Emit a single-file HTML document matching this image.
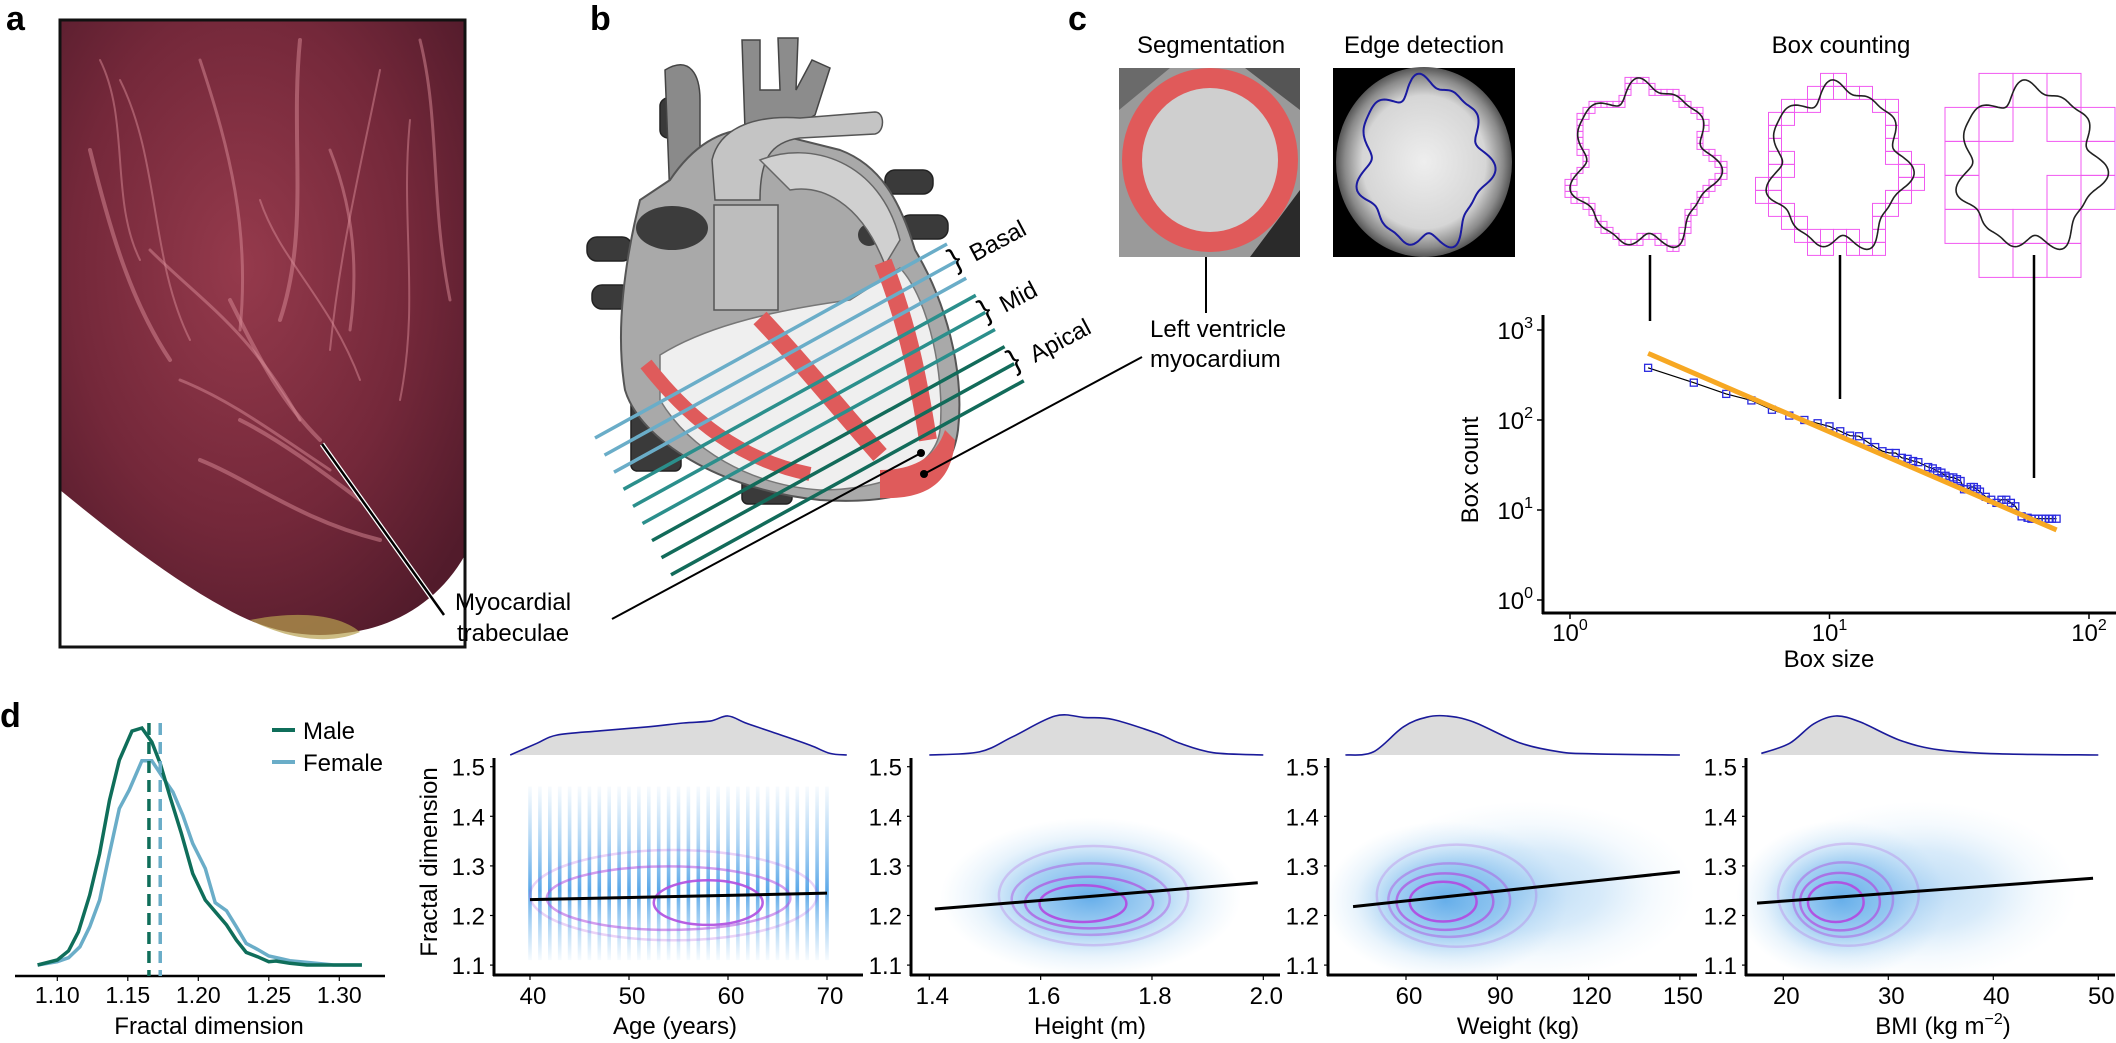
<!DOCTYPE html>
<html><head><meta charset="utf-8"><title>Fractal analysis figure</title>
<style>
html,body{margin:0;padding:0;background:#fff;}
svg{display:block;font-family:"Liberation Sans",Arial,sans-serif;}
</style></head>
<body>
<svg id="fig" xmlns="http://www.w3.org/2000/svg" width="2116" height="1043" viewBox="0 0 2116 1043">
<defs>
  <radialGradient id="heartGrad" cx="45%" cy="40%" r="70%">
    <stop offset="0" stop-color="#953a4c"/><stop offset="0.6" stop-color="#74283a"/><stop offset="1" stop-color="#521b2b"/>
  </radialGradient>
  <radialGradient id="cloudGrad" cx="50%" cy="50%" r="50%">
    <stop offset="0" stop-color="#4a9fe6" stop-opacity="0.85"/>
    <stop offset="0.45" stop-color="#62aeea" stop-opacity="0.55"/>
    <stop offset="0.75" stop-color="#8cc5f0" stop-opacity="0.2"/>
    <stop offset="1" stop-color="#a8d2f3" stop-opacity="0"/>
  </radialGradient>
  <linearGradient id="stripeGrad" x1="0" y1="0" x2="0" y2="1">
    <stop offset="0" stop-color="#6ab2ec" stop-opacity="0.05"/>
    <stop offset="0.3" stop-color="#5aa8e8" stop-opacity="0.45"/>
    <stop offset="0.6" stop-color="#4a9fe6" stop-opacity="0.9"/>
    <stop offset="0.85" stop-color="#6ab2ec" stop-opacity="0.4"/>
    <stop offset="1" stop-color="#6ab2ec" stop-opacity="0.05"/>
  </linearGradient>
  <radialGradient id="edgeGrad" cx="50%" cy="50%" r="50%">
    <stop offset="0" stop-color="#eeeeee"/><stop offset="0.7" stop-color="#d6d6d6"/><stop offset="0.9" stop-color="#8a8a8a"/><stop offset="1" stop-color="#555"/>
  </radialGradient>
</defs>

<text x="6" y="30" font-size="34" font-weight="bold">a</text>
<text x="590" y="30" font-size="34" font-weight="bold">b</text>
<text x="1068" y="30" font-size="34" font-weight="bold">c</text>
<text x="0" y="727" font-size="34" font-weight="bold">d</text>

<g id="panelA">
  <rect x="60" y="20" width="405" height="627" fill="#fff"/>
  <path d="M60,20 L465,20 L465,555 C440,600 395,628 345,633 C300,640 260,628 225,608 C170,578 115,535 60,490 Z" fill="url(#heartGrad)"/>
  <path d="M250,620 C290,640 330,645 360,632 C340,615 300,610 250,620 Z" fill="#b6a04e" opacity="0.7"/>
  <g id="strands" stroke="#d88a95" fill="none" stroke-linecap="round"></g>
  <rect x="60" y="20" width="405" height="627" fill="none" stroke="#111" stroke-width="3"/>
  <line x1="322" y1="444" x2="444" y2="615" stroke="#fff" stroke-width="5"/>
  <line x1="322" y1="444" x2="444" y2="615" stroke="#000" stroke-width="2.5"/>
  <text x="455" y="610" font-size="24">Myocardial</text>
  <text x="457" y="641" font-size="24">trabeculae</text>
</g>

<g id="panelB">
  <g fill="#3a3a3a" stroke="#222" stroke-width="1.5">
    <rect x="587" y="237" width="45" height="24" rx="10"/>
    <rect x="592" y="285" width="40" height="24" rx="10"/>
    <rect x="885" y="170" width="48" height="24" rx="10"/>
    <rect x="900" y="215" width="48" height="24" rx="10"/>
    <rect x="631" y="391" width="50" height="80" rx="6"/>
    <rect x="742" y="470" width="50" height="34" rx="6"/>
    <rect x="660" y="98" width="22" height="40" rx="8"/>
  </g>
  <path d="M665,70 C690,55 700,75 700,100 L700,200 L670,200 Z" fill="#8a8a8a" stroke="#444" stroke-width="1.5"/>
  <path d="M742,40 L760,40 L760,90 L780,90 L778,38 L798,38 L796,90 L812,60 L830,68 L815,115 L790,130 L745,130 Z" fill="#8c8c8c" stroke="#444" stroke-width="1.5"/>
  <path d="M640,200 C625,260 615,330 625,390 C640,440 720,490 820,500 C900,505 950,490 958,430 C965,370 945,300 915,250 C900,200 880,165 840,150 L760,130 C720,125 690,150 670,180 Z" fill="#a9a9a9" stroke="#555" stroke-width="2"/>
  <path d="M712,160 C720,125 760,115 800,118 L875,112 C885,112 885,132 875,134 L800,138 C770,142 760,160 760,200 L715,200 Z" fill="#c4c4c4" stroke="#555" stroke-width="1.5"/>
  <ellipse cx="672" cy="228" rx="36" ry="22" fill="#3c3c3c"/>
  <circle cx="862" cy="194" r="11" fill="#3c3c3c"/>
  <circle cx="869" cy="235" r="11" fill="#3c3c3c"/>
  <path d="M760,160 C810,140 880,160 900,240 L885,265 C860,200 820,185 790,190 Z" fill="#d0d0d0" stroke="#666" stroke-width="1.5"/>
  <path d="M660,355 C700,330 760,312 850,300 L900,268 C930,300 945,380 940,430 C935,470 880,490 820,490 C750,485 690,450 660,400 Z" fill="#efefef" stroke="#777" stroke-width="1.5"/>
  <path d="M714,205 L778,205 L778,310 L714,310 Z" fill="#bdbdbd" stroke="#555" stroke-width="1.5"/>
  <path d="M646,364 C690,420 740,460 810,474" fill="none" stroke="#df5b5b" stroke-width="14"/>
  <path d="M760,318 C800,360 840,410 880,455" fill="none" stroke="#df5b5b" stroke-width="18"/>
  <path d="M883,262 C910,330 920,390 928,440" fill="none" stroke="#df5b5b" stroke-width="18"/>
  <path d="M880,470 C910,470 935,460 945,430 L955,440 C952,480 930,500 880,498 Z" fill="#df5b5b"/>
  <g id="sliceLines"></g>
  <circle cx="921" cy="453" r="4" fill="#000"/>
  <circle cx="924" cy="474" r="4" fill="#000"/>
  <line x1="612" y1="619" x2="921" y2="453" stroke="#000" stroke-width="2"/>
  <line x1="924" y1="474" x2="1142" y2="357" stroke="#000" stroke-width="2"/>
  <text x="955" y="270" font-size="30" transform="rotate(-28 955 270)">}</text>
  <text x="985" y="321" font-size="30" transform="rotate(-28 985 321)">}</text>
  <text x="1014" y="371" font-size="30" transform="rotate(-28 1014 371)">}</text>
  <text x="975" y="262" font-size="24" transform="rotate(-28 975 262)">Basal</text>
  <text x="1005" y="313" font-size="24" transform="rotate(-28 1005 313)">Mid</text>
  <text x="1035" y="363" font-size="24" transform="rotate(-28 1035 363)">Apical</text>
</g>

<g id="panelC">
  <text x="1211" y="53" font-size="24" text-anchor="middle">Segmentation</text>
  <text x="1424" y="53" font-size="24" text-anchor="middle">Edge detection</text>
  <text x="1841" y="53" font-size="24" text-anchor="middle">Box counting</text>
  <g>
    <rect x="1119" y="68" width="181" height="189" fill="#9a9a9a"/>
    <path d="M1245,68 L1300,68 L1300,110 Z" fill="#555"/>
    <path d="M1300,190 L1300,257 L1250,257 Z" fill="#2a2a2a"/>
    <path d="M1119,68 L1170,68 L1119,110 Z" fill="#6a6a6a"/>
    <ellipse cx="1210" cy="160" rx="88" ry="92" fill="#e05a5a"/>
    <ellipse cx="1210" cy="160" rx="68" ry="72" fill="#cfcfcf"/>
  </g>
  <g>
    <rect x="1333" y="68" width="182" height="189" fill="#000"/>
    <ellipse cx="1424" cy="162" rx="88" ry="95" fill="url(#edgeGrad)"/>
    <path id="edgeContour" fill="none" stroke="#1a1aa0" stroke-width="2"/>
  </g>
  <line x1="1206" y1="257" x2="1206" y2="313" stroke="#000" stroke-width="2"/>
  <text x="1150" y="337" font-size="24">Left ventricle</text>
  <text x="1150" y="367" font-size="24">myocardium</text>
  <g id="boxImages"></g>
  <g id="boxPlot"></g>
</g>

<g id="densityPlot"></g>
<g id="scatterPanels"></g>
</svg>

<script>
const boxSizes = [2,3,4,5,6,7,8,9,10,11,12,13,14,15,16,17,18,19,20,21,22,24,25,26,27,28,29,30,31,32,33,34,35,36,37,38,40,42,44,46,48,50,52,55,58,60,62,64,66,68,70,72,75];
const boxCounts = [380,260,195,165,130,112,100,92,85,75,67,66,57,50,45,43,43,38,37,35,34,30,29,27,26,24,23,23,22,21,17,17,18,18,17,16,14,13,12,13,13,12,11,8.5,8.2,8,8,8,8,8,8,8,8];
const boxFitSize = [2,75];
const boxFitCount = [550,6];
const boxTickExp = [0,1,2];
const boxYTickExp = [0,1,2,3];

const fdMaleX = [1.086,1.100,1.108,1.115,1.123,1.130,1.137,1.144,1.153,1.160,1.167,1.173,1.180,1.188,1.196,1.205,1.213,1.220,1.227,1.234,1.242,1.250,1.255,1.265,1.277,1.316];
const fdMaleD = [0,0.021,0.060,0.140,0.295,0.470,0.695,0.864,0.987,1.0,0.941,0.850,0.709,0.555,0.386,0.274,0.218,0.169,0.105,0.053,0.035,0.014,0.017,0.007,0,0];
const fdFemaleX = [1.086,1.100,1.108,1.116,1.123,1.130,1.137,1.144,1.151,1.160,1.167,1.174,1.182,1.189,1.196,1.205,1.212,1.220,1.227,1.234,1.242,1.250,1.258,1.265,1.277,1.296,1.316];
const fdFemaleD = [0,0.014,0.031,0.077,0.161,0.274,0.471,0.660,0.738,0.862,0.862,0.799,0.730,0.632,0.513,0.407,0.263,0.229,0.161,0.091,0.066,0.038,0.028,0.018,0.011,0,0];
const fdMeans = [1.165,1.173];
const fdTicks = [1.10,1.15,1.20,1.25,1.30];

const fdYTicks = [1.1,1.2,1.3,1.4,1.5];

const ageTicks = [40,50,60,70];
const ageLevels = [40,41,42,43,44,45,46,47,48,49,50,51,52,53,54,55,56,57,58,59,60,61,62,63,64,65,66,67,68,69,70];
const ageMargX = [38,40.7,42.7,47.1,51.8,55.5,58.2,60,61.9,64.9,68.3,70.3,72];
const ageMargD = [0,0.3,0.51,0.62,0.72,0.82,0.87,1.0,0.81,0.55,0.25,0.04,0];
const ageFitX = [40,70];
const ageFitY = [1.232,1.245];
const ageContCx = [54.5,54,58];
const ageContCy = [1.241,1.235,1.226];
const ageContRx = [14.5,12.3,5.5];
const ageContRy = [0.091,0.064,0.045];

const heightTicks = [1.4,1.6,1.8,2.0];
const heightMargX = [1.40,1.49,1.55,1.626,1.68,1.73,1.81,1.85,1.91,2.0];
const heightMargD = [0,0.08,0.47,1.0,0.96,0.91,0.55,0.3,0.06,0];
const heightFitX = [1.41,1.99];
const heightFitY = [1.213,1.266];
const heightContCx = [1.695,1.69,1.687,1.676];
const heightContCy = [1.24,1.233,1.226,1.224];
const heightContRx = [0.17,0.142,0.115,0.078];
const heightContRy = [0.10,0.072,0.052,0.037];
const heightCloud = [1.69,1.237,0.27,0.16];

const weightTicks = [60,90,120,150];
const weightMargX = [40.1,49.3,59.1,66.8,73.4,82.1,97.4,110.6,121.5,150];
const weightMargD = [0,0.08,0.72,0.97,1.0,0.85,0.31,0.08,0.03,0];
const weightFitX = [42.6,150];
const weightFitY = [1.218,1.288];
const weightContCx = [76.6,74.2,72.8,72.2];
const weightContCy = [1.24,1.231,1.228,1.228];
const weightContRx = [26.2,20,15.9,11];
const weightContRy = [0.103,0.074,0.057,0.04];
const weightCloud = [73,1.23,40,0.16];
const weightTail = [100,1.25,55,0.18];

const bmiTicks = [20,30,40,50];
const bmiMargX = [17.9,20.6,22.9,25,27.3,31.1,34.9,40.6,50];
const bmiMargD = [0.04,0.3,0.8,1.0,0.85,0.38,0.13,0.03,0];
const bmiFitX = [17.5,49.5];
const bmiFitY = [1.225,1.275];
const bmiContCx = [26.2,25.7,25.4,25];
const bmiContCy = [1.242,1.232,1.228,1.227];
const bmiContRx = [6.7,4.75,3.8,2.65];
const bmiContRy = [0.103,0.075,0.058,0.04];
const bmiCloud = [25.5,1.232,10,0.16];
const bmiTail = [33,1.25,15,0.18];

const NS = 'http://www.w3.org/2000/svg';
function mk(tag, attrs, parent){
  const e = document.createElementNS(NS, tag);
  for (const k in attrs) e.setAttribute(k, attrs[k]);
  parent.appendChild(e);
  return e;
}
function smoothD(pts){
  let d = 'M' + pts[0][0].toFixed(1) + ',' + pts[0][1].toFixed(1);
  for (let i = 0; i < pts.length - 1; i++) {
    const p0 = pts[Math.max(0, i-1)], p1 = pts[i], p2 = pts[i+1], p3 = pts[Math.min(pts.length-1, i+2)];
    const c1x = p1[0] + (p2[0]-p0[0])/6, c1y = p1[1] + (p2[1]-p0[1])/6;
    const c2x = p2[0] - (p3[0]-p1[0])/6, c2y = p2[1] - (p3[1]-p1[1])/6;
    d += ' C' + c1x.toFixed(1) + ',' + c1y.toFixed(1) + ' ' + c2x.toFixed(1) + ',' + c2y.toFixed(1) + ' ' + p2[0].toFixed(1) + ',' + p2[1].toFixed(1);
  }
  return d;
}

(function(){
  const g = document.getElementById('strands');
  const paths = [
    "M120,80 C160,160 150,260 190,340","M200,60 C230,150 250,230 240,330","M300,40 C290,140 310,230 280,320",
    "M380,70 C360,170 340,250 330,350","M150,250 C200,300 250,330 300,420","M230,300 C260,360 280,400 320,440",
    "M260,200 C280,260 330,300 360,380","M180,380 C230,400 270,430 330,470","M90,150 C110,230 130,300 170,360",
    "M410,120 C400,220 420,300 400,400","M330,150 C350,200 360,260 350,330","M240,420 C280,440 320,470 360,500",
    "M100,60 C130,120 110,200 140,260","M420,40 C440,120 430,200 450,300","M200,460 C250,480 300,520 380,540"
  ];
  paths.forEach(function(d, i){
    const p = mk('path', {d: d, 'stroke-width': (i % 3) + 2, opacity: 0.5}, g);
    
    
  });
})();

(function(){
  const g = document.getElementById('sliceLines');
  const cols = ['#6aadc8','#6aadc8','#6aadc8','#2b8f8c','#2b8f8c','#2b8f8c','#126b5a','#126b5a','#126b5a'];
  for (let i = 0; i < 9; i++) {
    const ln = mk('line', {x1: 595 + i*9.5, y1: 438 + i*17.1, x2: 947 + i*9.6, y2: 244 + i*17.1, stroke: cols[i], 'stroke-width': 3.5}, g);
    
    
  }
})();

function blobPts(cx, cy, rx, ry){
  const pts = [];
  for (let i = 0; i <= 240; i++) {
    const t = i / 240 * Math.PI * 2;
    const r = 1 + 0.09*Math.sin(7*t + 0.5) + 0.05*Math.sin(11*t + 1.3) + 0.04*Math.cos(5*t);
    pts.push([cx + rx*r*Math.cos(t), cy + ry*r*Math.sin(t)]);
  }
  return pts;
}
function ptsToD(pts){ return 'M' + pts.map(p => p[0].toFixed(1) + ',' + p[1].toFixed(1)).join(' L') + ' Z'; }

document.getElementById('edgeContour').setAttribute('d', ptsToD(blobPts(1424, 163, 62, 80)));

(function(){
  const g = document.getElementById('boxImages');
  const specs = [[1644,165,68,78,6],[1838,167,66,78,13],[2030,167,68,78,34]];
  specs.forEach(function(s){
    const pts = blobPts(s[0], s[1], s[2], s[3]);
    const x0 = s[0] - s[2]*1.25, y0 = s[1] - s[3]*1.2, sz = s[4];
    const seen = {};
    pts.forEach(function(p){
      const i = Math.floor((p[0]-x0)/sz), j = Math.floor((p[1]-y0)/sz);
      const key = i + '_' + j;
      if (seen[key]) return;
      seen[key] = 1;
      const r = mk('rect', {x: x0 + i*sz, y: y0 + j*sz, width: sz, height: sz, fill: 'none', stroke: '#f05af0', 'stroke-width': 1}, g);
      
      
    });
    const c = mk('path', {d: ptsToD(pts), fill: 'none', stroke: '#222', 'stroke-width': 1.6}, g);
    
    
  });
  [[1650,255,321],[1840,255,399],[2034,255,478]].forEach(function(l){
    const ln = mk('line', {x1: l[0], y1: l[1], x2: l[0], y2: l[2], stroke: '#000', 'stroke-width': 2.5}, g);
    
    
  });
})();

(function(){
  const g = document.getElementById('boxPlot');
  const bx = v => 1570 + Math.log10(v) * 259.5;
  const by = v => 600 - Math.log10(v) * 90;
  let e = mk('line', {x1: 1543, y1: 315, x2: 1543, y2: 614, stroke: '#000', 'stroke-width': 3}, g);
  
  
  e = mk('line', {x1: 1542, y1: 613, x2: 2116, y2: 613, stroke: '#000', 'stroke-width': 3}, g);
  
  
  boxTickExp.forEach(function(k){
    const x = bx(Math.pow(10, k));
    const t = mk('line', {x1: x, y1: 613, x2: x, y2: 619, stroke: '#000', 'stroke-width': 1.5}, g);
    
    
    const tx = mk('text', {x: x, y: 641, 'font-size': 24, 'text-anchor': 'middle'}, g);
    
    
    tx.innerHTML = '10<tspan font-size="16" dy="-11">' + k + '</tspan>';
  });
  boxYTickExp.forEach(function(k){
    const y = by(Math.pow(10, k));
    const t = mk('line', {x1: 1537, y1: y, x2: 1543, y2: y, stroke: '#000', 'stroke-width': 1.5}, g);
    
    
    const tx = mk('text', {x: 1533, y: y + 9, 'font-size': 24, 'text-anchor': 'end'}, g);
    
    
    tx.innerHTML = '10<tspan font-size="16" dy="-11">' + k + '</tspan>';
  });
  const xl = mk('text', {x: 1829, y: 667, 'font-size': 24, 'text-anchor': 'middle'}, g);
  
  
  xl.textContent = 'Box size';
  const yl = mk('text', {x: 0, y: 0, 'font-size': 24, 'text-anchor': 'middle', transform: 'translate(1478,470) rotate(-90)'}, g);
  
  
  yl.textContent = 'Box count';
  const line = mk('polyline', {points: boxSizes.map((s, i) => bx(s).toFixed(1) + ',' + by(boxCounts[i]).toFixed(1)).join(' '), fill: 'none', stroke: '#000', 'stroke-width': 1.2}, g);
  
  
  boxSizes.forEach(function(s, i){
    const r = mk('rect', {x: bx(s) - 3.5, y: by(boxCounts[i]) - 3.5, width: 7, height: 7, fill: 'none', stroke: '#2a2ae0', 'stroke-width': 1.3}, g);
    
    
  });
  const fit = mk('line', {x1: bx(boxFitSize[0]), y1: by(boxFitCount[0]), x2: bx(boxFitSize[1]), y2: by(boxFitCount[1]), stroke: '#f7a823', 'stroke-width': 5}, g);
  
  
})();

(function(){
  const g = document.getElementById('densityPlot');
  const dx = v => 57.3 + (v - 1.10) * 1410;
  const dy = d => 965 - d * 237;
  let e = mk('line', {x1: 15, y1: 976, x2: 385, y2: 976, stroke: '#000', 'stroke-width': 2.5}, g);
  
  
  fdTicks.forEach(function(v){
    const t = mk('line', {x1: dx(v), y1: 976, x2: dx(v), y2: 981, stroke: '#000', 'stroke-width': 1.2}, g);
    
    
    const tx = mk('text', {x: dx(v), y: 1003, 'font-size': 23, 'text-anchor': 'middle'}, g);
    
    
    tx.textContent = v.toFixed(2);
  });
  const tl = mk('text', {x: 209, y: 1034, 'font-size': 24, 'text-anchor': 'middle'}, g);
  
  
  tl.textContent = 'Fractal dimension';
  const fem = mk('polyline', {points: fdFemaleX.map((x, i) => dx(x).toFixed(1) + ',' + dy(fdFemaleD[i]).toFixed(1)).join(' '), fill: 'none', stroke: '#6aadc8', 'stroke-width': 3.5}, g);
  
  
  const mal = mk('polyline', {points: fdMaleX.map((x, i) => dx(x).toFixed(1) + ',' + dy(fdMaleD[i]).toFixed(1)).join(' '), fill: 'none', stroke: '#0f6e5a', 'stroke-width': 3.5}, g);
  
  
  const mm = mk('line', {x1: dx(fdMeans[0]), y1: 723, x2: dx(fdMeans[0]), y2: 976, stroke: '#0f6e5a', 'stroke-width': 3.5, 'stroke-dasharray': '12,7'}, g);
  
  
  const fm = mk('line', {x1: dx(fdMeans[1]), y1: 723, x2: dx(fdMeans[1]), y2: 976, stroke: '#6aadc8', 'stroke-width': 3.5, 'stroke-dasharray': '12,7'}, g);
  
  
  const l1 = mk('line', {x1: 272, y1: 730, x2: 295, y2: 730, stroke: '#0f6e5a', 'stroke-width': 4}, g);
  
  
  const t1 = mk('text', {x: 303, y: 739, 'font-size': 24}, g);
  
  
  t1.textContent = 'Male';
  const l2 = mk('line', {x1: 272, y1: 762, x2: 295, y2: 762, stroke: '#6aadc8', 'stroke-width': 4}, g);
  
  
  const t2 = mk('text', {x: 303, y: 771, 'font-size': 24}, g);
  
  
  t2.textContent = 'Female';
})();

const fy = v => 766.7 + (1.5 - v) * 496;
function scatterPanel(p){
  const root = document.getElementById('scatterPanels');
  const g = mk('g', {}, root);
  
  
  const sx = v => p.px0 + (v - p.v0) * p.k;
  const base = 755, hgt = 39;
  const mpts = p.margX.map((x, i) => [sx(x), base - p.margD[i]*hgt]);
  const cd = smoothD(mpts);
  const area = mk('path', {d: cd + ' L' + mpts[mpts.length-1][0].toFixed(1) + ',' + base + ' L' + mpts[0][0].toFixed(1) + ',' + base + ' Z', fill: '#dcdcdc', stroke: 'none'}, g);
  
  
  const curve = mk('path', {d: cd, fill: 'none', stroke: '#1a1a9a', 'stroke-width': 1.6}, g);
  
  
  if (p.levels) {
    p.levels.forEach(function(a){
      const s = mk('rect', {x: sx(a) - 1.8, y: fy(1.46), width: 3.6, height: fy(1.11) - fy(1.46), fill: 'url(#stripeGrad)'}, g);
      
      
    });
  }
  (p.clouds || []).forEach(function(c, i){
    const el = mk('ellipse', {cx: sx(c[0]), cy: fy(c[1]), rx: c[2]*p.k, ry: c[3]*496, fill: 'url(#cloudGrad)', opacity: i === 0 ? 1 : 0.45}, g);
    
    
  });
  const n = p.cCx.length;
  const ops = n === 3 ? [0.25, 0.55, 0.9] : [0.25, 0.45, 0.7, 0.95];
  for (let i = 0; i < n; i++) {
    const el = mk('ellipse', {cx: sx(p.cCx[i]), cy: fy(p.cCy[i]), rx: p.cRx[i]*p.k, ry: p.cRy[i]*496, fill: 'none', stroke: '#b04ee0', 'stroke-width': 2.5, opacity: ops[i]}, g);
    
    
  }
  const fl = mk('line', {x1: sx(p.fitX[0]), y1: fy(p.fitY[0]), x2: sx(p.fitX[1]), y2: fy(p.fitY[1]), stroke: '#000', 'stroke-width': 3}, g);
  
  
  const ya = mk('line', {x1: p.ax, y1: 758, x2: p.ax, y2: 976, stroke: '#000', 'stroke-width': 3}, g);
  
  
  const xa = mk('line', {x1: p.ax - 1, y1: 975, x2: p.axEnd, y2: 975, stroke: '#000', 'stroke-width': 3}, g);
  
  
  fdYTicks.forEach(function(v){
    const t = mk('line', {x1: p.ax - 4, y1: fy(v), x2: p.ax, y2: fy(v), stroke: '#000', 'stroke-width': 1.2}, g);
    
    
    const tx = mk('text', {x: p.ax - 9, y: fy(v) + 9, 'font-size': 24, 'text-anchor': 'end'}, g);
    
    
    tx.textContent = v.toFixed(1);
  });
  p.ticks.forEach(function(v){
    const t = mk('line', {x1: sx(v), y1: 975, x2: sx(v), y2: 980, stroke: '#000', 'stroke-width': 1.2}, g);
    
    
    const tx = mk('text', {x: sx(v) + 3, y: 1004, 'font-size': 24, 'text-anchor': 'middle'}, g);
    
    
    tx.textContent = p.fmt ? v.toFixed(1) : String(v);
  });
  const tl = mk('text', {x: p.titleX, y: 1034, 'font-size': 24, 'text-anchor': 'middle'}, g);
  
  
  tl.innerHTML = p.title;
}

scatterPanel({name: 'age', px0: 530, v0: 40, k: 9.9, ax: 494, axEnd: 863, ticks: ageTicks, levels: ageLevels,
  margX: ageMargX, margD: ageMargD, fitX: ageFitX, fitY: ageFitY,
  cCx: ageContCx, cCy: ageContCy, cRx: ageContRx, cRy: ageContRy, titleX: 675, title: 'Age (years)'});
scatterPanel({name: 'height', px0: 929.3, v0: 1.4, k: 556.7, ax: 911, axEnd: 1280, ticks: heightTicks, fmt: true,
  margX: heightMargX, margD: heightMargD, fitX: heightFitX, fitY: heightFitY, clouds: [heightCloud],
  cCx: heightContCx, cCy: heightContCy, cRx: heightContRx, cRy: heightContRy, titleX: 1090, title: 'Height (m)'});
scatterPanel({name: 'weight', px0: 1406, v0: 60, k: 3.043, ax: 1328, axEnd: 1697, ticks: weightTicks,
  margX: weightMargX, margD: weightMargD, fitX: weightFitX, fitY: weightFitY, clouds: [weightCloud, weightTail],
  cCx: weightContCx, cCy: weightContCy, cRx: weightContRx, cRy: weightContRy, titleX: 1518, title: 'Weight (kg)'});
scatterPanel({name: 'bmi', px0: 1783.3, v0: 20, k: 10.5, ax: 1746, axEnd: 2115, ticks: bmiTicks,
  margX: bmiMargX, margD: bmiMargD, fitX: bmiFitX, fitY: bmiFitY, clouds: [bmiCloud, bmiTail],
  cCx: bmiContCx, cCy: bmiContCy, cRx: bmiContRx, cRy: bmiContRy, titleX: 1943, title: 'BMI (kg m<tspan font-size="16" dy="-10">−2</tspan><tspan dy="10">)</tspan>'});

(function(){
  const g = document.getElementById('scatterPanels');
  const yl = mk('text', {x: 0, y: 0, 'font-size': 24, 'text-anchor': 'middle', transform: 'translate(437,862) rotate(-90)'}, g);
  
  
  yl.textContent = 'Fractal dimension';
})();
</script>
</body></html>
